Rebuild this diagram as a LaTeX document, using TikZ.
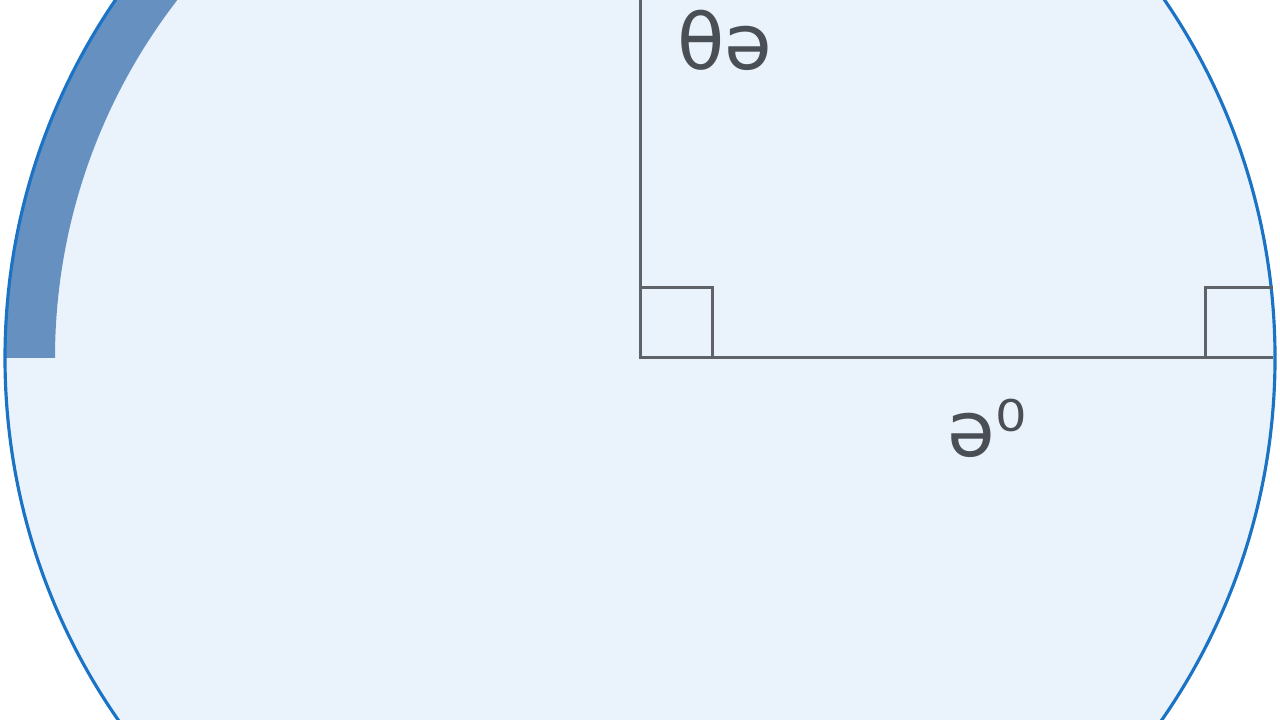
\documentclass[tikz,border=0pt]{standalone}
\usepackage{fontspec}
\setmainfont{DejaVu Sans}
\usepackage{tikz}
\usetikzlibrary{positioning}
\definecolor{disc}{HTML}{EAF3FC}
\definecolor{rim}{HTML}{1A73C4}
\definecolor{band}{HTML}{6690C0}
\definecolor{ink}{HTML}{5F6368}
\definecolor{txt}{HTML}{4A4F55}
\begin{document}
\begin{tikzpicture}[
            lab/.style={text=txt,font=\fontsize{22}{26}\selectfont,inner sep=0pt},
            leg/.style={draw=ink,line width=.85pt},
            sq/.style={leg,line join=miter}
          ]
          \useasboundingbox (0,0) rectangle (12.8,7.2);
          \clip (0,0) rectangle (12.8,7.2);
          %circle
          \coordinate (O) at (6.4,3.62);
          \fill[disc] (O) circle (6.35);
          \fill[band] ([shift={(180:6.35)}]O) arc (180:120:6.35)
            -- ([shift={(120:5.85)}]O) arc (120:180:5.85) -- cycle;
          \draw[rim,line width=.9pt] (O) circle (6.35);

          %legs
          \coordinate (top) at (6.4,7.3);
          \coordinate (right) at ([shift={(0:6.33)}]O);
          \draw[leg] (top) -- (O) -- (right);
          \draw[sq] ([xshift=.72cm]O) |- ([yshift=.7cm]O);
          \draw[sq] ([xshift=-.68cm]right) |- ([yshift=.7cm]right);

          %labels
          \node[lab] (a) at (7.25,6.8) {θə};
          \node[lab] (b) at (9.87,2.92) {ə⁰};
      \end{tikzpicture}
\end{document}
